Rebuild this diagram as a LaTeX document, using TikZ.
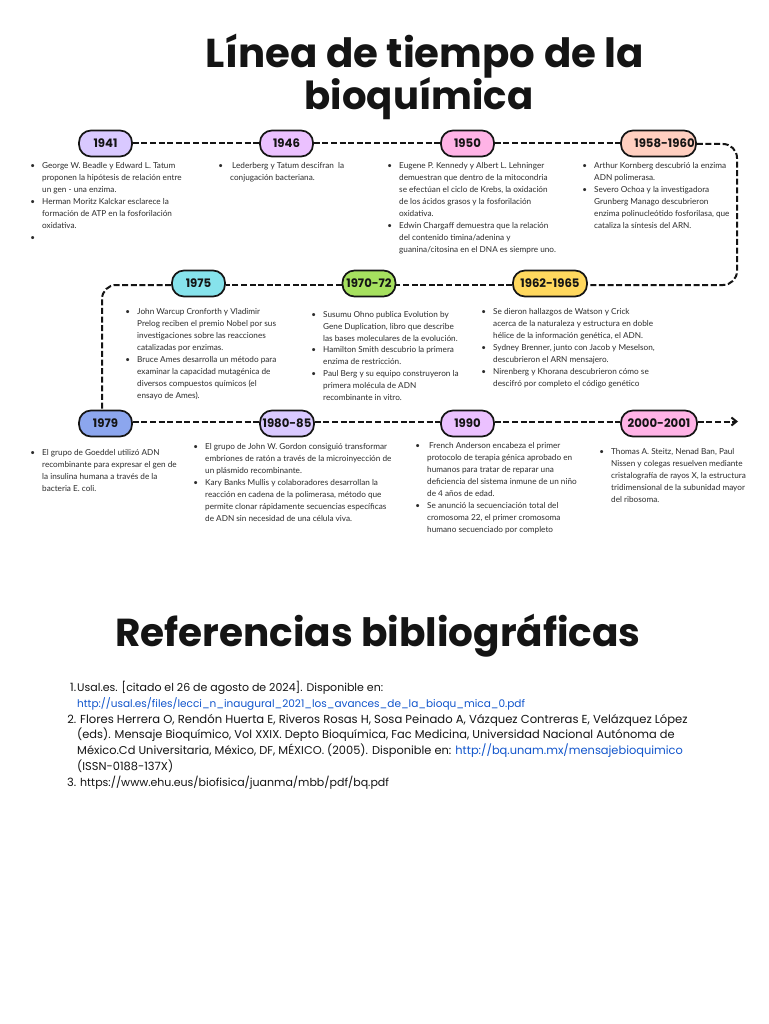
\documentclass[tikz,border=0pt]{standalone}
\usepackage{fontspec}
\setmainfont{Poppins}
\newfontfamily\bodyfont{Lato}
\usetikzlibrary{arrows.meta}
\definecolor{inkc}{HTML}{141414}
\definecolor{linkc}{HTML}{1155CC}
\definecolor{cA}{HTML}{D9C9FF}
\definecolor{cB}{HTML}{EBC1FF}
\definecolor{cC}{HTML}{FFB3E6}
\definecolor{cD}{HTML}{FFCFC0}
\definecolor{cE}{HTML}{86E3EC}
\definecolor{cF}{HTML}{A6E05F}
\definecolor{cG}{HTML}{FFD85E}
\definecolor{cH}{HTML}{8CA6EE}
\newcommand{\itm}{\leavevmode\llap{\textbullet\hspace{7pt}}}
\newcommand{\fs}[1]{\fontsize{#1}{15.8}\selectfont}
\tikzset{
  x=1pt,y=-1pt,
  pill/.style={draw=inkc,line width=1.7pt,rounded corners=12pt,minimum height=26pt,inner sep=0pt,text=inkc,font=\fontsize{11.7}{12}\selectfont\bfseries},
  dashline/.style={draw=inkc,line width=2pt,dash pattern=on 6pt off 2.6pt,rounded corners=14pt},
  txt/.style={anchor=north west,inner sep=0pt,yshift=-1.5pt,align=left,text=inkc!90,font=\bodyfont\fontsize{8.2}{11.9}\selectfont},
  head/.style={inner sep=0pt,text=inkc,font=\fontsize{40.3}{42}\selectfont\bfseries},
  refs/.style={anchor=north west,inner sep=0pt,align=left,text=inkc,font=\fs{11.4}}
}
\begin{document}
\begin{tikzpicture}
\useasboundingbox[fill=white](0,0)rectangle(768,1024);
\node[head](title1)at(425,56){Línea de tiempo de la};
\node[head,font=\fontsize{38.6}{40}\selectfont\bfseries](title2)at(419,99){bioquímica};
% first row
\node[pill,fill=cA,minimum width=53pt](n1941)at(105.5,143.5){1941};
\node[pill,fill=cB,minimum width=53pt](n1946)at(286.5,143.5){1946};
\node[pill,fill=cC,minimum width=53pt](n1950)at(467.5,143.5){1950};
\node[pill,fill=cD,minimum width=75pt](n1958)at(658.5,143.5){\hspace*{12pt}1958-1960};
% second row
\node[pill,fill=cE,minimum width=53pt](n1975)at(198.5,283.5){1975};
\node[pill,fill=cF,minimum width=53pt](n1970)at(369,283.5){1970-72};
\node[pill,fill=cG,minimum width=74pt](n1962)at(550,283.5){1962-1965};
% third row
\node[pill,fill=cH,minimum width=53pt](n1979)at(105.5,423.5){1979};
\node[pill,fill=cA,minimum width=54pt](n1980)at(287,423.5){1980-85};
\node[pill,fill=cB,minimum width=53pt](n1990)at(467.5,423.5){1990};
\node[pill,fill=cC,minimum width=76pt](n2000)at(659,423.5){2000-2001};
\coordinate(turnR)at(737,215);
\coordinate(turnL)at(102,350);
\coordinate(lineEnd)at(738,421.5);
\draw[dashline](n1941)--(n1946);
\draw[dashline](n1946)--(n1950);
\draw[dashline](n1950)--(n1958);
\draw[dashline]([yshift=-.5pt]n1958.east)-|(turnR)|-([yshift=-1.5pt]n1962.east);
\draw[dashline]([yshift=-1.5pt]n1962.west)--([yshift=-1.5pt]n1970.east);
\draw[dashline]([yshift=-1.5pt]n1970.west)--([yshift=-1.5pt]n1975.east);
\draw[dashline]([yshift=-1.5pt]n1975.west)-|(turnL)--(turnL|-n1979.north);
\draw[dashline]([yshift=2pt]n1979.east)--([yshift=2pt]n1980.west);
\draw[dashline]([yshift=2pt]n1980.east)--([yshift=2pt]n1990.west);
\draw[dashline]([yshift=2pt]n1990.east)--([yshift=2pt]n2000.west);
\draw[dashline,-{Straight Barb[length=5pt,width=8pt]}]([yshift=2pt]n2000.east)--(lineEnd);
% texts
\node[txt](t1941)at(42,161){\itm George W. Beadle y Edward L. Tatum\\proponen la hipótesis de relación entre\\un gen - una enzima.\\\itm Herman Moritz Kalckar esclarece la\\formación de ATP en la fosforilación\\oxidativa.\\\itm};
\node[txt](t1946)at(230,161){\itm\hspace{2pt}Lederberg y Tatum descifran\ \ la\\conjugación bacteriana.};
\node[txt](t1950)at(399,161){\itm Eugene P. Kennedy y Albert L. Lehninger\\demuestran que dentro de la mitocondria\\se efectúan el ciclo de Krebs, la oxidación\\de los ácidos grasos y la fosforilación\\oxidativa.\\\itm Edwin Chargaff demuestra que la relación\\del contenido timina/adenina y\\guanina/citosina en el DNA es siempre uno.};
\node[txt](t1958)at(594,161){\itm Arthur Kornberg descubrió la enzima\\ADN polimerasa.\\\itm Severo Ochoa y la investigadora\\Grunberg Manago descubrieron\\enzima polinucleótido fosforilasa, que\\cataliza la síntesis del ARN.};
\node[txt](t1975)at(137,307){\itm John Warcup Cronforth y Vladimir\\Prelog reciben el premio Nobel por sus\\investigaciones sobre las reacciones\\catalizadas por enzimas.\\\itm Bruce Ames desarrolla un método para\\examinar la capacidad mutagénica de\\diversos compuestos químicos (el\\ensayo de Ames).};
\node[txt](t1970)at(323,309.5){\itm Susumu Ohno publica Evolution by\\Gene Duplication, libro que describe\\las bases moleculares de la evolución.\\\itm Hamilton Smith descubrio la primera\\enzima de restricción.\\\itm Paul Berg y su equipo construyeron la\\primera molécula de ADN\\recombinante in vitro.};
\node[txt](t1962)at(493,307){\itm Se dieron hallazgos de Watson y Crick\\acerca de la naturaleza y estructura en doble\\hélice de la información genética, el ADN.\\\itm Sydney Brenner, junto con Jacob y Meselson,\\descubrieron el ARN mensajero.\\\itm Nirenberg y Khorana descubrieron cómo se\\descifró por completo el código genético};
\node[txt](t1979)at(42,448){\itm El grupo de Goeddel utilizó ADN\\recombinante para expresar el gen de\\la insulina humana a través de la\\bacteria E. coli.};
\node[txt](t1980)at(205,442){\itm El grupo de John W. Gordon consiguió transformar\\embriones de ratón a través de la microinyección de\\un plásmido recombinante.\\\itm Kary Banks Mullis y colaboradores desarrollan la\\reacción en cadena de la polimerasa, método que\\permite clonar rápidamente secuencias específicas\\de ADN sin necesidad de una célula viva.};
\node[txt](t1990)at(427,441){\itm\hspace{2pt}French Anderson encabeza el primer\\protocolo de terapia génica aprobado en\\humanos para tratar de reparar una\\deficiencia del sistema inmune de un niño\\de 4 años de edad.\\\itm Se anunció la secuenciación total del\\cromosoma 22, el primer cromosoma\\humano secuenciado por completo};
\node[txt](t2000)at(611,447){\itm Thomas A. Steitz, Nenad Ban, Paul\\Nissen y colegas resuelven mediante\\cristalografía de rayos X, la estructura\\tridimensional de la subunidad mayor\\del ribosoma.};
% references
\node[head,font=\fontsize{39}{40}\selectfont\bfseries](title3)at(378,636){Referencias bibliográficas};
\node[refs](reflist)at(77,681){\llap{1.\hspace{1pt}}{\fs{11}Usal.es. [citado el 26 de agosto de 2024]. Disponible en:}\\\textcolor{linkc}{\fs{10.5}http://usal.es/files/lecci\_n\_inaugural\_2021\_los\_avances\_de\_la\_bioqu\_mica\_0.pdf}\\\llap{2.\hspace{1pt}}\hspace{3pt}{\fs{11.6}Flores Herrera O, Rendón Huerta E, Riveros Rosas H, Sosa Peinado A, Vázquez Contreras E, Velázquez López}\\(eds). Mensaje Bioquímico, Vol XXIX. Depto Bioquímica, Fac Medicina, Universidad Nacional Autónoma de\\México.Cd Universitaria, México, DF, MÉXICO. (2005). Disponible en: \textcolor{linkc}{http://bq.unam.mx/mensajebioquimico}\\(ISSN-0188-137X)\\\llap{3.\hspace{1pt}}\hspace{3pt}{\fs{11}https://www.ehu.eus/biofisica/juanma/mbb/pdf/bq.pdf}};
\end{tikzpicture}
\end{document}
